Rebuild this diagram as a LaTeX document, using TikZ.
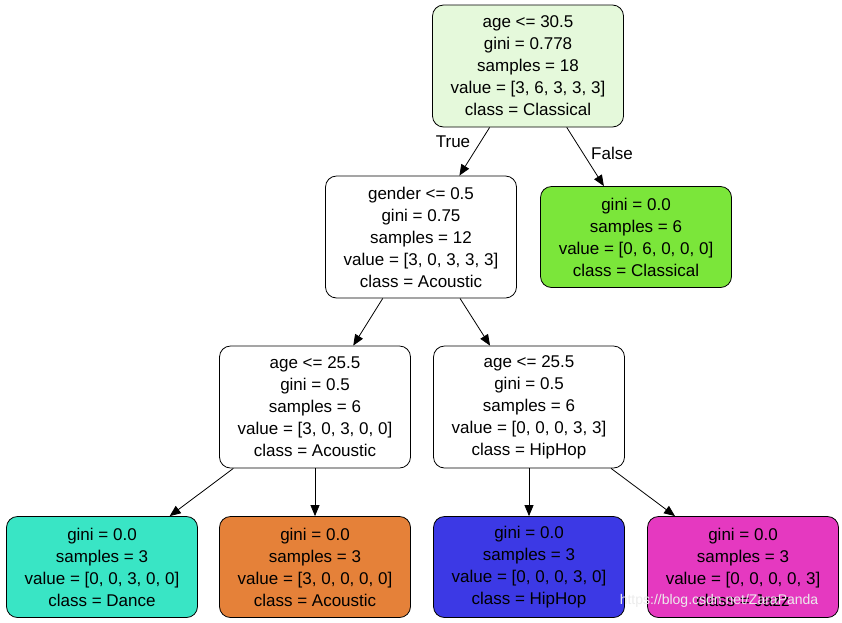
\documentclass[tikz,border=0pt]{standalone}
\usepackage{fontspec}
\setmainfont{Liberation Sans}
\usetikzlibrary{arrows.meta}
\definecolor{croot}{HTML}{E5F9DB}
\definecolor{cgreen}{HTML}{7BE63A}
\definecolor{cdance}{HTML}{39E5C5}
\definecolor{cacou}{HTML}{E58139}
\definecolor{chip}{HTML}{3C39E5}
\definecolor{cjazz}{HTML}{E539C0}
\begin{document}
\begin{tikzpicture}[x=1pt,y=-1pt,
 box/.style={draw=black,rounded corners=11pt,minimum width=191pt,align=center,inner sep=0pt,
   font=\fontsize{17pt}{22pt}\selectfont,line width=0.8pt},
 tall/.style={box,minimum height=122pt},
 short/.style={box,minimum height=101pt},
 arr/.style={-{Triangle[length=11pt,width=9pt]},line width=0.8pt},
 lab/.style={font=\fontsize{17pt}{20pt}\selectfont}]
\useasboundingbox (0,0) rectangle (842,622);
\fill[white] (0,0) rectangle (842,622);
\node[tall,fill=croot] (root) at (528,66) {age <= 30.5\\gini = 0.778\\samples = 18\\value = [3, 6, 3, 3, 3]\\class = Classical};
\node[tall,fill=white] (g) at (421,237) {gender <= 0.5\\gini = 0.75\\samples = 12\\value = [3, 0, 3, 3, 3]\\class = Acoustic};
\node[short,fill=cgreen] (f) at (636,237) {gini = 0.0\\samples = 6\\value = [0, 6, 0, 0, 0]\\class = Classical};
\node[tall,fill=white] (al) at (315,407) {age <= 25.5\\gini = 0.5\\samples = 6\\value = [3, 0, 3, 0, 0]\\class = Acoustic};
\node[tall,fill=white] (ar) at (529,407) {age <= 25.5\\gini = 0.5\\samples = 6\\value = [0, 0, 0, 3, 3]\\class = HipHop};
\node[short,fill=cdance] (l1) at (102,567) {gini = 0.0\\samples = 3\\value = [0, 0, 3, 0, 0]\\class = Dance};
\node[short,fill=cacou] (l2) at (315,567) {gini = 0.0\\samples = 3\\value = [3, 0, 0, 0, 0]\\class = Acoustic};
\node[short,fill=chip] (l3) at (529,567) {gini = 0.0\\samples = 3\\value = [0, 0, 0, 3, 0]\\class = HipHop};
\node[short,fill=cjazz] (l4) at (743,567) {gini = 0.0\\samples = 3\\value = [0, 0, 0, 0, 3]\\class = Jazz};
\draw[arr] (root) -- (g);
\draw[arr] (root) -- (f);
\draw[arr] (g) -- (al);
\draw[arr] (g) -- (ar);
\draw[arr] (al) -- (l1);
\draw[arr] (al) -- (l2);
\draw[arr] (ar) -- (l3);
\draw[arr] (ar) -- (l4);
\node[lab] (t) at (453,142) {True};
\node[lab] (fl) at (612,153) {False};
\node[font=\fontsize{14pt}{16pt}\selectfont,text=white!85!gray] (wm) at (719,601) {https://blog.csdn.net/ZaraPanda};
\end{tikzpicture}
\end{document}
